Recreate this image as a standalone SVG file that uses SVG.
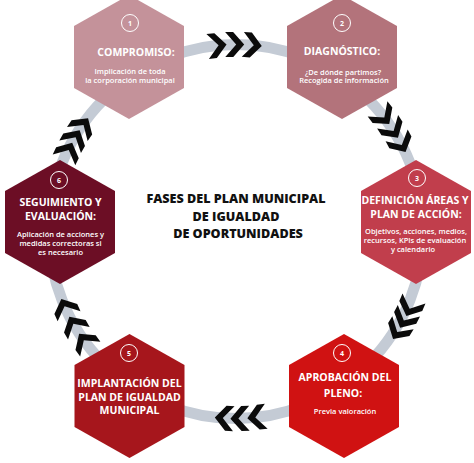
<svg xmlns="http://www.w3.org/2000/svg" width="474" height="463" viewBox="0 0 474 463">
<style>
.t{font-family:"Open Sans","Liberation Sans",sans-serif;font-weight:700;font-size:10.5px;fill:#fff;text-anchor:middle}
.s{font-family:"Open Sans","Liberation Sans",sans-serif;font-weight:600;font-size:7.5px;fill:#fff;text-anchor:middle}
.n{font-family:"Open Sans","Liberation Sans",sans-serif;font-weight:700;font-size:7px;fill:#fff;text-anchor:middle}
.c{fill:none;stroke:#fff;stroke-width:1}
.h{font-family:"Open Sans","Liberation Sans",sans-serif;font-weight:800;font-size:12.6px;fill:#111;text-anchor:middle}
</style>
<defs>
<polygon id="hex" points="0,-62 55,-31 55,31 0,62 -55,31 -55,-31"/>
<polygon id="chev" points="-9.5,-12.5 -1.5,-12.5 9.5,0 -1.5,12.5 -9.5,12.5 1.5,0" fill="#0b0b0b"/>
</defs>
<rect width="474" height="463" fill="#fff"/>
<g id="connectors">
<circle cx="236" cy="231.5" r="187" fill="none" stroke="#c4cbd5" stroke-width="11"/>
<use href="#chev" transform="translate(217.1,45.5) rotate(-5.8)"/>
<use href="#chev" transform="translate(234.7,44.5) rotate(-0.4)"/>
<use href="#chev" transform="translate(252.3,45.2) rotate(5)"/>
<use href="#chev" transform="translate(383.4,116.4) rotate(52)"/>
<use href="#chev" transform="translate(392.8,129.7) rotate(57)"/>
<use href="#chev" transform="translate(401.1,143.7) rotate(62)"/>
<use href="#chev" transform="translate(410.2,307.3) rotate(113.5)"/>
<use href="#chev" transform="translate(404.5,319.2) rotate(117.5)"/>
<use href="#chev" transform="translate(398,330.8) rotate(121.5)"/>
<use href="#chev" transform="translate(224.3,418.1) rotate(183.6)"/>
<use href="#chev" transform="translate(239.9,418.5) rotate(178.8)"/>
<use href="#chev" transform="translate(256.8,417.3) rotate(173.6)"/>
<use href="#chev" transform="translate(84.7,341.4) rotate(234)"/>
<use href="#chev" transform="translate(74.1,325) rotate(240)"/>
<use href="#chev" transform="translate(65.2,307.6) rotate(246)"/>
<use href="#chev" transform="translate(68.1,151.4) rotate(295.5)"/>
<use href="#chev" transform="translate(74.9,138.5) rotate(300)"/>
<use href="#chev" transform="translate(82.7,126.2) rotate(304.5)"/>
</g>
<g id="title">
<text class="h" x="236" y="202.5">FASES DEL PLAN MUNICIPAL</text>
<text class="h" x="236" y="221">DE IGUALDAD</text>
<text class="h" x="238" y="238">DE OPORTUNIDADES</text>
</g>
<g id="node1">
<use href="#hex" transform="translate(129,57)" fill="#c4929a"/>
<circle class="c" cx="130" cy="23" r="8.5"/>
<text class="n" x="130" y="25.5">1</text>
<text class="t" x="136" y="56">COMPROMISO:</text>
<text class="s" x="130" y="73.5">Implicación de toda</text>
<text class="s" x="130" y="82.5">la corporación municipal</text>
</g>
<g id="node2">
<use href="#hex" transform="translate(342,57)" fill="#b3737b"/>
<circle class="c" cx="342" cy="23" r="8.5"/>
<text class="n" x="342" y="25.5">2</text>
<text class="t" x="342" y="54.5">DIAGNÓSTICO:</text>
<text class="s" x="343" y="74.5">¿De dónde partimos?</text>
<text class="s" x="344" y="83">Recogida de información</text>
</g>
<g id="node3">
<use href="#hex" transform="translate(416,222)" fill="#c13e4c"/>
<circle class="c" cx="417" cy="178" r="8.5"/>
<text class="n" x="417" y="180.5">3</text>
<text class="t" x="415" y="204">DEFINICIÓN ÁREAS Y</text>
<text class="t" x="416" y="218">PLAN DE ACCIÓN:</text>
<text class="s" x="416" y="234">Objetivos, acciones, medios,</text>
<text class="s" x="415" y="243">recursos, KPIs de evaluación</text>
<text class="s" x="413" y="252">y calendario</text>
</g>
<g id="node4">
<use href="#hex" transform="translate(344,396)" fill="#d01212"/>
<circle class="c" cx="342" cy="353" r="8.5"/>
<text class="n" x="342" y="355.5">4</text>
<text class="t" x="345" y="380.5">APROBACIÓN DEL</text>
<text class="t" x="343" y="396.5">PLENO:</text>
<text class="s" x="345" y="413.5">Previa valoración</text>
</g>
<g id="node5">
<use href="#hex" transform="translate(129.5,396)" fill="#a6161c"/>
<circle class="c" cx="129" cy="353" r="8.5"/>
<text class="n" x="129" y="355.5">5</text>
<text class="t" x="129.5" y="386.5">IMPLANTACIÓN DEL</text>
<text class="t" x="129.5" y="400.5">PLAN DE IGUALDAD</text>
<text class="t" x="129.5" y="414">MUNICIPAL</text>
</g>
<g id="node6">
<use href="#hex" transform="translate(60,222)" fill="#6c0e25"/>
<circle class="c" cx="59" cy="180" r="8.5"/>
<text class="n" x="59" y="182.5">6</text>
<text class="t" x="60.5" y="205.5">SEGUIMIENTO Y</text>
<text class="t" x="60.5" y="219.5">EVALUACIÓN:</text>
<text class="s" x="60.5" y="236.5">Aplicación de acciones y</text>
<text class="s" x="60.5" y="245.5">medidas correctoras si</text>
<text class="s" x="60.5" y="254.5">es necesario</text>
</g>
</svg>
